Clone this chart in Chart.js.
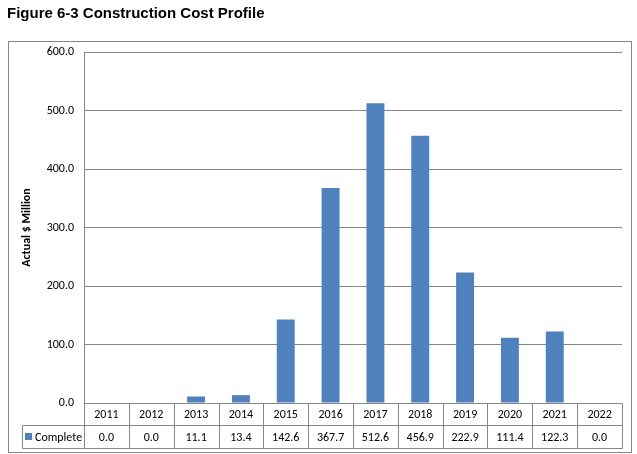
<!DOCTYPE html>
<html>
<head>
<meta charset="utf-8">
<script src="https://cdn.jsdelivr.net/npm/chart.js@4.4.1/dist/chart.umd.min.js"></script>
<style>
  html, body { margin: 0; padding: 0; background: #fff; }
  #wrap { position: relative; width: 637px; height: 454px; overflow: hidden; }
  #title { position: absolute; left: 7px; top: 6px; font: bold 15px "Liberation Sans", Arial, sans-serif; line-height: 14px; color: #000; white-space: nowrap; }
  canvas { position: absolute; left: 0; top: 0; }
</style>
</head>
<body>
<div id="wrap">
  <canvas id="c" width="637" height="454"></canvas>
  <div id="title">Figure 6-3 Construction Cost Profile</div>
</div>
<script>
const years = ['2011','2012','2013','2014','2015','2016','2017','2018','2019','2020','2021','2022'];
const complete = [0.0, 0.0, 11.1, 13.4, 142.6, 367.7, 512.6, 456.9, 222.9, 111.4, 122.3, 0.0];
const seriesName = 'Complete';
const yTitle = 'Actual $ Million';

const FONT = 'Carlito, Lato, "Open Sans", sans-serif';
const LINE = '#868686';
const BLUE = '#4F81BD';

const tablePlugin = {
  id: 'tablePlugin',
  afterDraw(chart) {
    const ctx = chart.ctx;
    const ca = chart.chartArea;
    const xs = chart.scales.x;
    const n = years.length;
    const colW = (ca.right - ca.left) / n;
    const top = Math.round(ca.bottom);
    const mid = top + 22;
    const bot = top + 45;
    ctx.save();
    // outer frame
    ctx.strokeStyle = LINE;
    ctx.lineWidth = 1;
    ctx.strokeRect(8.5, 41.5, 623, 411);
    // table lines
    ctx.beginPath();
    const L = Math.round(ca.left) + 0.5, R = Math.round(ca.right) + 0.5;
    ctx.moveTo(L, top + 0.5); ctx.lineTo(R, top + 0.5);
    ctx.moveTo(22.5, mid + 0.5); ctx.lineTo(R, mid + 0.5);
    ctx.moveTo(22.5, bot + 0.5); ctx.lineTo(R, bot + 0.5);
    ctx.moveTo(22.5, mid + 0.5); ctx.lineTo(22.5, bot + 0.5);
    for (let i = 0; i <= n; i++) {
      const x = Math.round(xs.getPixelForValue(Math.min(i, n - 1)) + (i === n ? colW / 2 : -colW / 2)) + 0.5;
      ctx.moveTo(x, top + 0.5); ctx.lineTo(x, bot + 0.5);
    }
    ctx.stroke();
    // text
    ctx.fillStyle = '#000';
    ctx.font = '12px ' + FONT;
    ctx.textAlign = 'center';
    ctx.textBaseline = 'middle';
    for (let i = 0; i < n; i++) {
      const cx = xs.getPixelForValue(i);
      ctx.fillText(years[i], cx, (top + mid) / 2 + 1);
      ctx.fillText(complete[i].toFixed(1), cx, (mid + bot) / 2 + 1);
    }
    // legend key
    ctx.fillStyle = BLUE;
    ctx.fillRect(25, mid + 8, 7, 7);
    ctx.fillStyle = '#000';
    ctx.textAlign = 'left';
    ctx.fillText(seriesName, 35, (mid + bot) / 2 + 1);
    // y title
    ctx.save();
    ctx.translate(27, (ca.top + ca.bottom) / 2);
    ctx.rotate(-Math.PI / 2);
    ctx.font = 'bold 12px ' + FONT;
    ctx.textAlign = 'center';
    ctx.fillText(yTitle, 0, 0);
    ctx.restore();
    ctx.restore();
  }
};

new Chart(document.getElementById('c'), {
  type: 'bar',
  data: {
    labels: years,
    datasets: [{
      label: seriesName,
      data: complete,
      backgroundColor: BLUE,
      borderWidth: 0,
      barPercentage: 0.4,
      categoryPercentage: 1.0
    }]
  },
  options: {
    responsive: false,
    animation: false,
    layout: { padding: { left: 0, right: 15, top: 52, bottom: 51 } },
    plugins: { legend: { display: false }, tooltip: { enabled: false }, title: { display: false } },
    scales: {
      x: { display: false },
      y: {
        min: 0, max: 600,
        ticks: {
          stepSize: 100,
          padding: 10,
          color: '#000',
          font: { size: 12, family: FONT },
          callback: v => Number(v).toFixed(1)
        },
        grid: { color: LINE, drawTicks: false, lineWidth: 1 },
        border: { display: true, color: LINE },
        afterFit(scale) { scale.width = 84; }
      }
    }
  },
  plugins: [tablePlugin]
});
</script>
</body>
</html>
